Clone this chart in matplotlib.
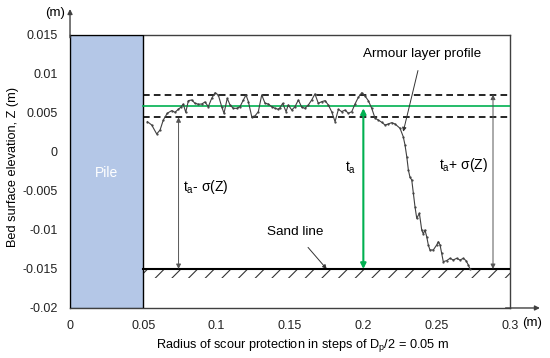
import matplotlib
matplotlib.use("Agg")
import matplotlib.pyplot as plt
from matplotlib.patches import Rectangle

plt.rcParams['font.family'] = ['Liberation Sans', 'DejaVu Sans']
plt.rcParams['hatch.linewidth'] = 0.8

# armour layer profile (m)
profile_x = [0.0527, 0.0557, 0.0591, 0.0614, 0.0636, 0.0663, 0.0693, 0.0716, 0.0738, 0.0755,
             0.0772, 0.0789, 0.0807, 0.0830, 0.0852, 0.0875, 0.0898, 0.0920, 0.0943, 0.0966,
             0.0989, 0.1011, 0.1034, 0.1050, 0.1072, 0.1091, 0.1113, 0.1137, 0.1159, 0.1182,
             0.1200, 0.1216, 0.1239, 0.1261, 0.1284, 0.1307, 0.1330, 0.1352, 0.1375, 0.1398,
             0.1420, 0.1432, 0.1450, 0.1473, 0.1488, 0.1512, 0.1534, 0.1557, 0.1580, 0.1602,
             0.1625, 0.1648, 0.1670, 0.1693, 0.1716, 0.1739, 0.1761, 0.1784, 0.1807, 0.1830,
             0.1852, 0.1875, 0.1898, 0.1921, 0.1943, 0.1966, 0.1989, 0.2011, 0.2034, 0.2057,
             0.2080, 0.2102, 0.2125, 0.2148, 0.2170, 0.2193, 0.2216, 0.2250, 0.2272, 0.2284,
             0.2296, 0.2307, 0.2318, 0.2330, 0.2341, 0.2352, 0.2364, 0.2382, 0.2398, 0.2409,
             0.2420, 0.2432, 0.2443, 0.2454, 0.2477, 0.2500, 0.2511, 0.2523, 0.2534, 0.2545,
             0.2568, 0.2591, 0.2613, 0.2636, 0.2659, 0.2682, 0.2700, 0.2716, 0.2727]
profile_z = [0.00389, 0.00346, 0.00231, 0.00282, 0.00410, 0.00496, 0.00530, 0.00509, 0.00547, 0.00573,
             0.00615, 0.00509, 0.00658, 0.00667, 0.00624, 0.00612, 0.00615, 0.00641, 0.00581, 0.00688,
             0.00760, 0.00731, 0.00581, 0.00496, 0.00688, 0.00603, 0.00560, 0.00560, 0.00581, 0.00667,
             0.00731, 0.00645, 0.00453, 0.00462, 0.00517, 0.00731, 0.00624, 0.00615, 0.00581, 0.00560,
             0.00547, 0.00568, 0.00624, 0.00517, 0.00603, 0.00538, 0.00581, 0.00667, 0.00573, 0.00560,
             0.00603, 0.00667, 0.00744, 0.00624, 0.00645, 0.00658, 0.00603, 0.00517, 0.00389, 0.00547,
             0.00517, 0.00538, 0.00496, 0.00517, 0.00615, 0.00701, 0.00760, 0.00718, 0.00658, 0.00560,
             0.00432, 0.00410, 0.00381, 0.00346, 0.00359, 0.00376, 0.00359, 0.00304, 0.00196, 0.00090,
             -0.00060, -0.00231, -0.00324, -0.00359, -0.00529, -0.00701, -0.00850, -0.00786, -0.01000, -0.01051,
             -0.01000, -0.01086, -0.01192, -0.01256, -0.01256, -0.01192, -0.01150, -0.01192, -0.01299, -0.01406,
             -0.01393, -0.01363, -0.01385, -0.01363, -0.01385, -0.01363, -0.01393, -0.01449, -0.0150]

t_a = 0.0059
sigma = 0.00145
sand_z = -0.015
pile_r = 0.05
x_lim = [0, 0.3]
y_lim = [-0.02, 0.015]
x_ticks = [0, 0.05, 0.1, 0.15, 0.2, 0.25, 0.3]
y_ticks = [-0.02, -0.015, -0.01, -0.005, 0, 0.005, 0.01, 0.015]

fig = plt.figure(figsize=(5.5, 3.58), dpi=100)
ax = fig.add_axes([0.1273, 0.1397, 0.8, 0.7626])
ax.set_xlim(x_lim)
ax.set_ylim(y_lim)
ax.set_xticks(x_ticks)
ax.set_xticklabels(['0', '0.05', '0.1', '0.15', '0.2', '0.25', '0.3'])
ax.set_yticks(y_ticks)
ax.set_yticklabels(['-0.02', '-0.015', '-0.01', '-0.005', '0', '0.005', '0.01', '0.015'])
ax.tick_params(length=0, labelsize=9, colors='#222222')
ax.tick_params(axis='x', pad=9)
ax.tick_params(axis='y', pad=9)
for s in ax.spines.values():
    s.set_color('#404040')
    s.set_linewidth(1.0)

# pile
ax.add_patch(Rectangle((0, y_lim[0]), pile_r, y_lim[1] - y_lim[0], facecolor='#B4C7E7',
                       edgecolor='black', linewidth=1.0, zorder=3))
ax.text(pile_r / 2, -0.0027, 'Pile', color='white', fontsize=10, ha='center', va='center', zorder=4)

# sand line with hatching
ax.plot([pile_r, 0.3], [sand_z, sand_z], color='black', lw=1.5, zorder=4)
ax.add_patch(Rectangle((pile_r, sand_z - 0.0012), 0.3 - pile_r, 0.0012, fill=False, hatch='//',
                       edgecolor='#333333', linewidth=0, zorder=2))

# mean thickness and +- sigma
ax.plot([pile_r, 0.3], [t_a + sigma] * 2, color='black', lw=1.2, ls=(0, (4, 2.5)), zorder=3)
ax.plot([pile_r, 0.3], [t_a - sigma] * 2, color='black', lw=1.2, ls=(0, (4, 2.5)), zorder=3)
ax.plot([pile_r, 0.3], [t_a, t_a], color='#00B050', lw=1.2, zorder=3)

# profile
ax.plot(profile_x, profile_z, color='#404040', lw=0.8, marker='.', markersize=1.2, zorder=5)

# dimension arrows
arr = dict(arrowstyle='<|-|>', color='#555555', lw=0.7, mutation_scale=7, shrinkA=0, shrinkB=0)
ax.annotate('', xy=(0.074, t_a - sigma), xytext=(0.074, sand_z), arrowprops=arr, zorder=6)
ax.annotate('', xy=(0.2884, t_a + sigma), xytext=(0.2884, sand_z), arrowprops=arr, zorder=6)
ax.annotate('', xy=(0.2, t_a - 0.0003), xytext=(0.2, sand_z),
            arrowprops=dict(arrowstyle='<|-|>', color='#00B050', lw=1.5, mutation_scale=8,
                            shrinkA=0, shrinkB=0), zorder=6)

ax.text(0.0768, -0.0045, r't$_\mathregular{a}$- σ(Z)', fontsize=10, ha='left', va='center')
ax.text(0.1875, -0.0020, r't$_\mathregular{a}$', fontsize=10, ha='left', va='center')
ax.text(0.2686, -0.0017, r't$_\mathregular{a}$+ σ(Z)', fontsize=10, ha='center', va='center')

ax.annotate('Armour layer profile', xy=(0.2272, 0.0026), xytext=(0.240, 0.0126), fontsize=9.7,
            ha='center', va='center',
            arrowprops=dict(arrowstyle='-|>', color='#333333', lw=0.7, mutation_scale=6,
                            shrinkA=6, shrinkB=0))
ax.annotate('Sand line', xy=(0.1750, sand_z), xytext=(0.1534, -0.0103), fontsize=9.7,
            ha='center', va='center',
            arrowprops=dict(arrowstyle='-|>', color='#333333', lw=0.7, mutation_scale=6,
                            shrinkA=6, shrinkB=0))

# axis arrows beyond the box
ax.annotate('', xy=(0, 1.095), xytext=(0, 0.99), xycoords='axes fraction',
            arrowprops=dict(arrowstyle='-|>', color='#404040', lw=1.0, mutation_scale=7,
                            shrinkA=0, shrinkB=0), annotation_clip=False)
ax.annotate('', xy=(1.068, 0), xytext=(0.99, 0), xycoords='axes fraction',
            arrowprops=dict(arrowstyle='-|>', color='#404040', lw=1.0, mutation_scale=7,
                            shrinkA=0, shrinkB=0), annotation_clip=False)
fig.text(0.1, 0.9637, '(m)', fontsize=9.5, ha='center', va='center')
fig.text(0.967, 0.0978, '(m)', fontsize=9.5, ha='center', va='center')

fig.text(0.551, 0.036, r'Radius of scour protection in steps of D$_\mathregular{p}$/2 = 0.05 m',
         fontsize=9.2, ha='center', va='center')
fig.text(0.024, 0.535, 'Bed surface elevation, Z (m)', fontsize=9.2, ha='center', va='center',
         rotation=90)

fig.savefig('out.png', dpi=100)
